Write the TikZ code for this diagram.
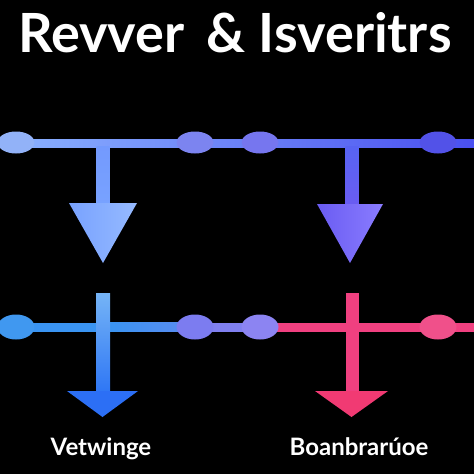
\documentclass[tikz,border=0pt]{standalone}
\usepackage{fontspec}
\setmainfont{Lato}
\usetikzlibrary{shapes.geometric}
\definecolor{tA}{HTML}{8CB4FF}
\definecolor{tB}{HTML}{4A50F0}
\definecolor{te1}{HTML}{92B2F8}
\definecolor{te2}{HTML}{7C84F0}
\definecolor{te3}{HTML}{7676EF}
\definecolor{te4}{HTML}{5252E8}
\definecolor{taL}{HTML}{78A2FF}
\definecolor{taR}{HTML}{96BAFF}
\definecolor{tbL}{HTML}{6A5CF2}
\definecolor{tbR}{HTML}{8A7CFF}
\definecolor{bBlue}{HTML}{3A94F2}
\definecolor{bPur}{HTML}{8080F0}
\definecolor{bPink}{HTML}{F04080}
\definecolor{be1}{HTML}{4098F0}
\definecolor{be2}{HTML}{7C7CF0}
\definecolor{be3}{HTML}{8C84F2}
\definecolor{be4}{HTML}{F0508A}
\tikzset{
  dot/.style={ellipse, inner sep=0pt, minimum width=37pt, minimum height=22pt},
  lbl/.style={text=white, font=\bfseries\fontsize{24}{24}\selectfont, anchor=base},
}
\begin{document}
\begin{tikzpicture}[x=1pt,y=-1pt]
\fill[black] (0,0) rectangle (474,474);
\useasboundingbox (0,0) rectangle (474,474);
% title
\node[text=white, font=\bfseries\fontsize{54}{54}\selectfont, anchor=base] (title) at (235,52) {Revver \,\& Isveritrs};
% top line
\shade[left color=tA, right color=tB] (0,139) rectangle (474,147);
\node[dot, fill=te1] (t1) at (16,142.5) {};
\node[dot, fill=te2] (t2) at (195,142.5) {};
\node[dot, fill=te3] (t3) at (260,142.5) {};
\node[dot, fill=te4] (t4) at (438,142.5) {};
% top arrows
\shade[top color=taL!90!tB, bottom color=taL] (96.5,146) rectangle (109.5,204);
\shade[left color=taL, right color=taR] (69,203) -- (137,203) -- (103,263) -- cycle;
\shade[top color=tB!80!tA, bottom color=tbL] (345.5,146) rectangle (358.5,205);
\shade[left color=tbL, right color=tbR] (317,204) -- (383,204) -- (350,263) -- cycle;
% bottom line
\fill[bBlue] (0,322.5) rectangle (195,331.5);
\fill[bPur] (195,322.5) rectangle (260,331.5);
\fill[bPink] (275,322.5) rectangle (474,331.5);
\shade[left color=bBlue, right color=bBlue!60!bPur] (110,322.5) rectangle (180,331.5);
\node[dot, fill=be1, minimum height=25pt] (b1) at (16,327) {};
\node[dot, fill=be2, minimum height=25pt] (b2) at (195,327) {};
\node[dot, fill=be3, minimum height=25pt] (b3) at (260,327) {};
\node[dot, fill=be4, minimum height=25pt] (b4) at (438,327) {};
% bottom crosses
\shade[top color=bBlue!70!white, bottom color=bBlue!80!blue] (96,293) rectangle (110,392);
\fill[bBlue!75!blue] (67,391) -- (138,391) -- (102.5,417) -- cycle;
\fill[bPink] (345.5,293) rectangle (358.5,392);
\fill[bPink!90!red] (315,391) -- (388,391) -- (351.5,417) -- cycle;
% labels
\node[lbl] (l1) at (101,455) {Vetwinge};
\node[lbl] (l2) at (359,455) {Boanbrarúoe};
\end{tikzpicture}
\end{document}
